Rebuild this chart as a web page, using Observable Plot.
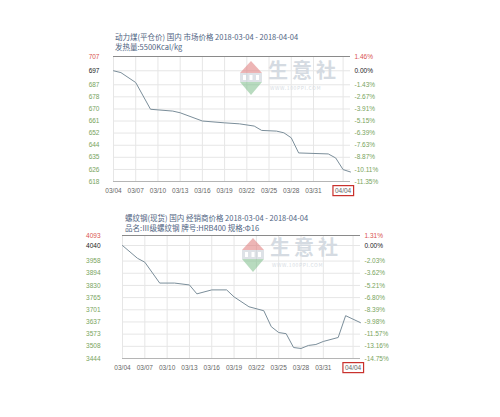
<!DOCTYPE html>
<html><head><meta charset="utf-8">
<script src="https://cdn.jsdelivr.net/npm/d3@7"></script>
<script src="https://cdn.jsdelivr.net/npm/@observablehq/plot@0.6"></script>
<style>
body{margin:0;background:#fff;}
#wrap{position:relative;width:500px;height:417px;overflow:hidden;background:#fff;}
#wrap svg.plot{position:absolute;left:0;}
.ttl{position:absolute;font-family:"Noto Sans CJK SC",sans-serif;font-size:7.5px;color:#4f6482;white-space:nowrap;line-height:1;}
.wm{position:absolute;font-family:"Noto Sans CJK SC",sans-serif;white-space:nowrap;}
.wm .big{font-size:20px;letter-spacing:4px;color:#d5dbe2;font-weight:bold;line-height:20px;height:20px;}
.wm .url{font-size:5px;color:#d6dce3;letter-spacing:0.6px;margin-top:5px;margin-left:2px;line-height:5px;}
.logo{position:absolute;opacity:0.55;}
</style></head><body><div id="wrap"></div>
<script>
// ---- shared x ticks ----
const xTickDates = ["2018-03-04","2018-03-07","2018-03-10","2018-03-13","2018-03-16","2018-03-19","2018-03-22","2018-03-25","2018-03-28","2018-03-31","2018-04-04"];
const xTickLabels = ["03/04","03/07","03/10","03/13","03/16","03/19","03/22","03/25","03/28","03/31","04/04"];

// ---- chart 1: 动力煤 ----
const coalTitle = "动力煤(平仓价) 国内 市场价格 2018-03-04 - 2018-04-04";
const coalSubtitle = "发热量:5500Kcal/kg";
const coalDates = ["2018-03-04","2018-03-05","2018-03-07","2018-03-09","2018-03-12","2018-03-13","2018-03-16","2018-03-19","2018-03-21","2018-03-23","2018-03-24","2018-03-26","2018-03-27","2018-03-28","2018-03-29","2018-04-02","2018-04-03","2018-04-04","2018-04-05"];
const coalPrices = [697,695.7,688.6,669.5,668.2,667,661.1,659.8,659.1,657.5,654.4,653.9,652.7,649.1,638.3,637.6,634.7,626.4,624.7];
const coalTicks = [707.2,697,687.0,678.4,669.7,661.1,652.5,643.8,635.2,626.5,617.9];
const coalLeftLabels = ["707","697","687","678","670","661","652","644","635","626","618"];
const coalRightLabels = ["1.46%","0.00%","-1.43%","-2.67%","-3.91%","-5.15%","-6.39%","-7.63%","-8.87%","-10.11%","-11.35%"];

// ---- chart 2: 螺纹钢 ----
const rebarTitle = "螺纹钢(现货) 国内 经销商价格 2018-03-04 - 2018-04-04";
const rebarSubtitle = "品名:Ⅲ级螺纹钢 牌号:HRB400 规格:Φ16";
const rebarDates = ["2018-03-04","2018-03-06","2018-03-07","2018-03-09","2018-03-11","2018-03-13","2018-03-14","2018-03-16","2018-03-18","2018-03-19","2018-03-21","2018-03-23","2018-03-24","2018-03-25","2018-03-26","2018-03-27","2018-03-28","2018-03-29","2018-03-30","2018-03-31","2018-04-02","2018-04-03","2018-04-05"];
const rebarPrices = [4040,3973,3952,3842,3842,3832,3785,3806,3806,3769,3717,3696,3612,3581,3575,3502,3497,3513,3518,3534,3555,3670,3633];
const rebarTicks = [4092.9,4040,3958.0,3893.8,3829.5,3765.3,3701.0,3636.8,3572.6,3508.3,3444.1];
const rebarLeftLabels = ["4093","4040","3958","3894","3830","3765","3701","3637","3573","3508","3444"];
const rebarRightLabels = ["1.31%","0.00%","-2.03%","-3.62%","-5.21%","-6.80%","-8.39%","-9.98%","-11.57%","-13.16%","-14.75%"];

const wrap = document.getElementById("wrap");

function makeChart(o) {
  const data = o.dates.map((d, i) => ({date: new Date(d), price: o.prices[i]}));
  const tickData = o.ticks.map((t, i) => ({
    t, left: o.leftLabels[i], right: o.rightLabels[i],
    color: i === 0 ? "#d9534f" : i === 1 ? "#222222" : "#78a460"
  }));
  const xt = xTickDates.map(d => new Date(d));
  const svg = Plot.plot({
    width: 500, height: o.height,
    marginTop: o.mt, marginBottom: o.mb, marginLeft: o.ml, marginRight: o.mr,
    style: {fontSize: "6.5px", fontFamily: "Liberation Sans, Arial, sans-serif", color: "#666", background: "transparent"},
    x: {type: "utc", domain: [new Date("2018-03-04"), new Date("2018-04-05")], ticks: xt,
        tickFormat: d => xTickLabels[xt.findIndex(v => +v === +d)], tickSize: 0, tickPadding: 7, label: null},
    y: {domain: [o.ticks[o.ticks.length - 1], o.ticks[0]], axis: null},
    color: {type: "identity"},
    marks: [
      Plot.ruleY(o.ticks.slice(1, -1), {stroke: "#e6e6e6", strokeWidth: 1}),
      Plot.ruleX(xt, {stroke: "#e6e6e6", strokeWidth: 1}),
      Plot.ruleY([o.ticks[0]], {stroke: "#8a8a8a", strokeWidth: 1}),
      Plot.ruleY([o.ticks[o.ticks.length - 1]], {stroke: "#b5b5b5", strokeWidth: 1}),
      Plot.line(data, {x: "date", y: "price", stroke: "#7b8e9a", strokeWidth: 1}),
      Plot.text(tickData, {y: "t", text: "left", frameAnchor: "left", dx: o.ldx, textAnchor: "end", fill: "color"}),
      Plot.text(tickData, {y: "t", text: "right", frameAnchor: "right", dx: 4, textAnchor: "start", fill: "color"})
    ]
  });
  svg.classList.add("plot");
  svg.style.top = o.top + "px";
  wrap.appendChild(svg);
  // red box around the last x label
  const labels = svg.querySelectorAll('g[aria-label="x-axis tick label"] text');
  const last = labels[labels.length - 1];
  if (last) {
    const b = last.getBBox();
    const ctm = last.getAttribute("transform");
    const r = document.createElementNS("http://www.w3.org/2000/svg", "rect");
    r.setAttribute("x", b.x - 2); r.setAttribute("y", b.y - 1.5);
    r.setAttribute("width", b.width + 4); r.setAttribute("height", b.height + 3);
    r.setAttribute("fill", "none"); r.setAttribute("stroke", "#c9302c"); r.setAttribute("stroke-width", "1.2");
    if (ctm) r.setAttribute("transform", ctm);
    last.parentNode.insertBefore(r, last);
  }
  // titles
  const t1 = document.createElement("div");
  t1.className = "ttl"; t1.textContent = o.title;
  t1.style.left = o.tx + "px"; t1.style.top = o.ty + "px";
  wrap.appendChild(t1);
  const t2 = document.createElement("div");
  t2.className = "ttl"; t2.textContent = o.subtitle;
  t2.style.left = o.tx + "px"; t2.style.top = (o.ty + 10) + "px";
  wrap.appendChild(t2);
  // watermark
  const wm = document.createElement("div");
  wm.className = "wm";
  wm.style.left = o.wx + "px"; wm.style.top = o.wy + "px";
  wm.innerHTML = '<div class="big">生意社</div><div class="url">WWW.100PPI.COM</div>';
  wrap.appendChild(wm);
  const lg = document.createElement("div");
  lg.className = "logo";
  lg.style.left = (o.wx - 28) + "px"; lg.style.top = (o.wy + 1) + "px";
  lg.innerHTML = '<svg width="22" height="34" viewBox="0 0 22 34">' +
    '<polygon points="11,0 22,12 0,12" fill="#e07a7a"/>' +
    '<rect x="0" y="12" width="22" height="9" fill="#c4ccd4"/>' +
    '<rect x="3" y="14" width="3" height="5" fill="#fff"/><rect x="9.5" y="14" width="3" height="5" fill="#fff"/><rect x="16" y="14" width="3" height="5" fill="#fff"/>' +
    '<polygon points="0,21 22,21 11,34" fill="#7fbf8c"/></svg>';
  wrap.appendChild(lg);
}

makeChart({dates: coalDates, prices: coalPrices, ticks: coalTicks, leftLabels: coalLeftLabels, rightLabels: coalRightLabels,
  top: 0, height: 200, mt: 56, mb: 19, ml: 113, mr: 150, ldx: -14,
  title: coalTitle, subtitle: coalSubtitle, tx: 115, ty: 33, wx: 268, wy: 60});
makeChart({dates: rebarDates, prices: rebarPrices, ticks: rebarTicks, leftLabels: rebarLeftLabels, rightLabels: rebarRightLabels,
  top: 200, height: 217, mt: 35, mb: 59, ml: 122, mr: 140, ldx: -22,
  title: rebarTitle, subtitle: rebarSubtitle, tx: 125, ty: 214, wx: 270, wy: 237});
</script></body></html>
